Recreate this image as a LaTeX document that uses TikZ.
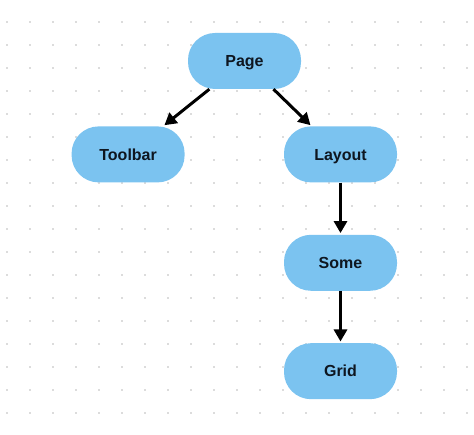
\documentclass[tikz,border=0pt]{standalone}
\usepackage{fontspec}
\setmainfont{Liberation Sans}
\usepackage{tikz}
\usetikzlibrary{arrows.meta,positioning}
\definecolor{pillblue}{HTML}{7BC3F0}
\definecolor{dotgray}{HTML}{B8B8B8}
\definecolor{inkdark}{HTML}{0E1620}

\begin{document}
\begin{tikzpicture}[
    x=1pt, y=1pt,
    pill/.style={rectangle, rounded corners=27pt, fill=pillblue, text=inkdark, minimum width=113pt, minimum height=56pt, text height=11.5pt, text depth=0pt, font=\fontsize{16}{18}\selectfont\bfseries},
    arrow/.style={-{Triangle[length=12pt,width=13pt]}, line width=3pt, shorten >=1.5pt}
  ]
    \useasboundingbox (0,0) rectangle (474,-435);
    % dotted grid
    \foreach \gx in {7,30,...,467}
      \foreach \gy in {22,45,...,413}
        \fill[dotgray] (\gx,-\gy) circle (0.9pt);

    \node[pill] (page) at (244.5,-61) {Page};
    \node[pill, below left=37pt and 3pt of page] (toolbar) {Toolbar};
    \node[pill, right=99pt of toolbar] (layout) {Layout};
    \node[pill, below=52pt of layout] (some) {Some};
    \node[pill, below=52pt of some] (grid) {Grid};

    \draw[arrow] (page) -- (toolbar);
    \draw[arrow] (page) -- (layout);
    \draw[arrow] (layout) -- (some);
    \draw[arrow] (some) -- (grid);
  \end{tikzpicture}
\end{document}
